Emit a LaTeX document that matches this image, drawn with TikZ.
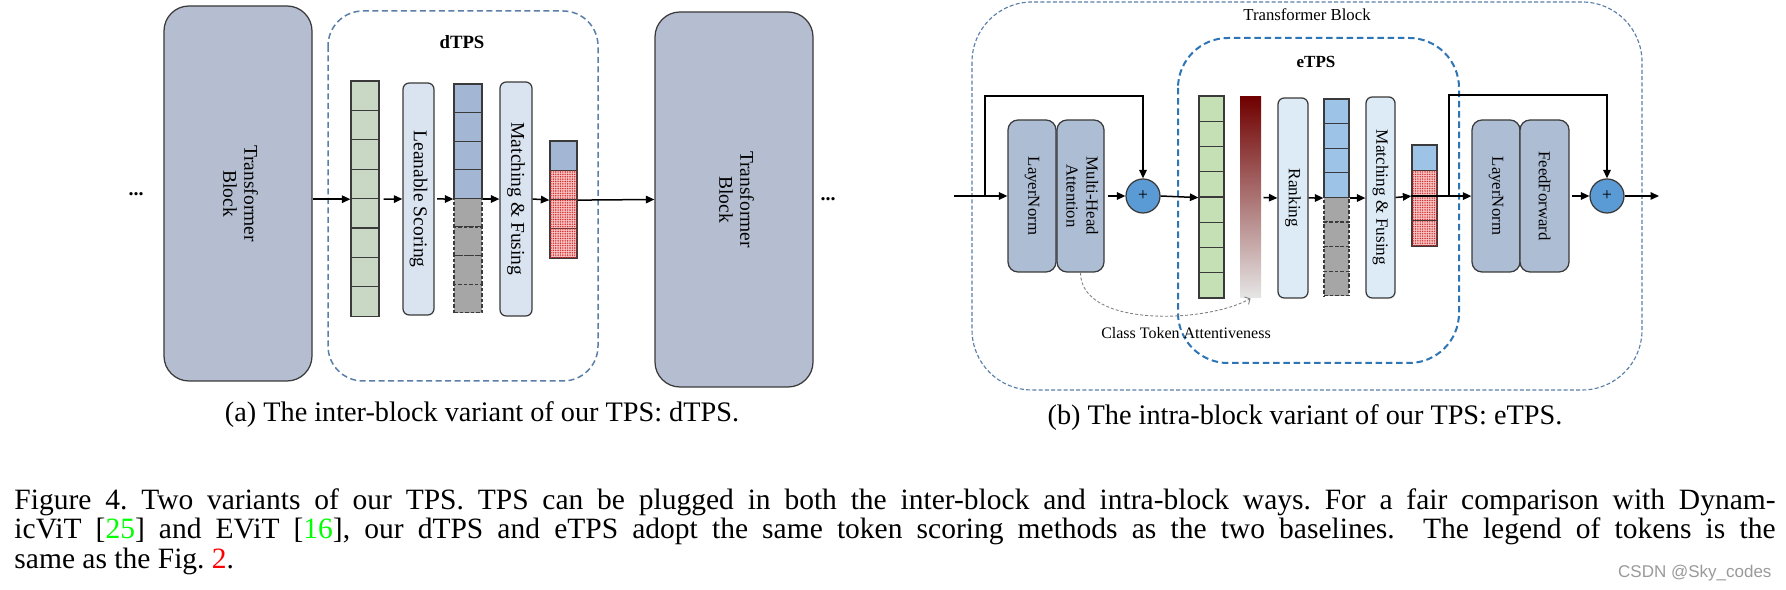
\documentclass[tikz,border=0pt]{standalone}
\usepackage{fontspec}
\setmainfont{Liberation Serif}
\newfontfamily\marksans{Liberation Sans}
\usepackage{graphicx}
\usepackage{tikz}
\usetikzlibrary{arrows.meta,patterns,patterns.meta,positioning}
\usepackage{xcolor}
\definecolor{blockgray}{HTML}{B4BED0}
\definecolor{normblue}{HTML}{ADBDD4}
\definecolor{edgegray}{HTML}{3A3A3A}
\definecolor{scorefill}{HTML}{DAE3F0}
\definecolor{scorefillb}{HTML}{DDEBF7}
\definecolor{tokgreen}{HTML}{C9D7C5}
\definecolor{tokgreenb}{HTML}{C5E0B4}
\definecolor{keepblue}{HTML}{A3B6D3}
\definecolor{keepblueb}{HTML}{9DC3E6}
\definecolor{dropgray}{HTML}{A6A6A6}
\definecolor{fusedpink}{HTML}{F5C4C4}
\definecolor{fusedred}{HTML}{DC2A2A}
\definecolor{plusblue}{HTML}{5B9BD5}
\definecolor{dashblue}{HTML}{5A7EA8}
\definecolor{etpsblue}{HTML}{2E75B6}
\definecolor{attnred}{HTML}{700000}
\definecolor{attnlight}{HTML}{E6E6E6}
\definecolor{citegreen}{HTML}{00FF00}
\definecolor{markgray}{HTML}{9A9A9A}

\newcommand{\sidetext}[1]{\rotatebox{-90}{#1}}
\newcommand{\twolines}[2]{\sidetext{\begin{tabular}{@{}c@{}}#1\\#2\end{tabular}}}

\tikzset{
  tblock/.style={draw=edgegray, fill=blockgray, line width=0.5pt, rounded corners=10pt,
    minimum height=150pt, inner sep=0pt, font=\fontsize{7.8}{8.4}\selectfont},
  opbox/.style={draw=edgegray, fill=scorefill, line width=0.5pt, rounded corners=2.5pt,
    inner sep=0pt, font=\fontsize{7.8}{8.4}\selectfont},
  normbox/.style={draw=edgegray, fill=normblue, line width=0.5pt, rounded corners=4pt,
    inner sep=0pt, minimum height=60.8pt, font=\fontsize{6.7}{8}\selectfont},
  tokcell/.style={draw=edgegray, line width=0.5pt, inner sep=0pt},
  dropcell/.style={tokcell, fill=dropgray, dash pattern=on 1.4pt off 0.8pt},
  fusedcell/.style={tokcell, fill=fusedpink,
    postaction={pattern={Dots[radius=0.32pt, distance=0.95pt]}, pattern color=fusedred}},
  plusnode/.style={circle, draw=edgegray, fill=plusblue, line width=0.5pt, inner sep=0pt,
    minimum size=13.6pt, font=\fontsize{7}{7}\selectfont},
  flow/.style={->, line width=0.6pt},
  attnflow/.style={-{Straight Barb[length=1.6pt,width=3.4pt]}, gray, line width=0.35pt,
    dash pattern=on 1.2pt off 0.8pt},
  tpsbox/.style={dashblue, line width=0.6pt, dash pattern=on 2.4pt off 1.4pt, rounded corners=14pt},
  outerbox/.style={dashblue, line width=0.45pt, dash pattern=on 1.6pt off 0.9pt, rounded corners=24pt},
  etpsbox/.style={etpsblue, line width=0.8pt, dash pattern=on 2.6pt off 1.5pt, rounded corners=20pt},
  caption/.style={inner sep=0pt, font=\fontsize{11.3}{11.84}\selectfont},
}

\begin{document}
\begin{tikzpicture}[x=0.4pt, y=-0.4pt, >={Triangle[length=3.4pt,width=3pt]}]
  \fill[white] (0,0) rectangle (1786,590);
  \useasboundingbox (0,0) rectangle (1786,590);

  % (a) inter-block variant
  \draw[tpsbox] (328,11) rectangle (598,381);
  \node[font=\fontsize{7.5}{8}\selectfont\bfseries] (dtps) at (462,42) {dTPS};
  \node[font=\fontsize{8}{8}\selectfont] (dotsl) at (136,194) {\textbf{...}};
  \node[tblock, minimum width=59.2pt] (tb1) at (238,193.5) {\twolines{Transformer}{Block}};
  \node[tblock, minimum width=63.2pt] (tb2) at (734,199.5) {\twolines{Transformer}{Block}};
  \node[font=\fontsize{8}{8}\selectfont] (dotsr) at (828,199) {\textbf{...}};
  \foreach \i in {1,...,8}{
    \pgfmathsetmacro{\cy}{81+29.4*(\i-0.5)}
    \node[tokcell, fill=tokgreen, minimum width=11.2pt, minimum height=11.76pt] (ga\i) at (365,\cy) {};
  }
  \node[opbox, minimum width=12.4pt, minimum height=92.8pt] (ls) at (418.5,199) {\sidetext{Leanable Scoring}};
  \foreach \i in {5,...,8}{
    \pgfmathsetmacro{\cy}{84+28.6*(\i-0.5)}
    \node[dropcell, minimum width=11.2pt, minimum height=11.44pt] (ba\i) at (468,\cy) {};
  }
  \foreach \i in {1,...,4}{
    \pgfmathsetmacro{\cy}{84+28.6*(\i-0.5)}
    \node[tokcell, fill=keepblue, minimum width=11.2pt, minimum height=11.44pt] (ba\i) at (468,\cy) {};
  }
  \node[opbox, minimum width=12.8pt, minimum height=93.6pt] (mfa) at (516,199) {\sidetext{Matching \& Fusing}};
  \node[tokcell, fill=keepblue, minimum width=10.8pt, minimum height=11.7pt] (ra1) at (563.5,155.6) {};
  \foreach \i in {2,...,4}{
    \pgfmathsetmacro{\cy}{141+29.25*(\i-0.5)}
    \node[fusedcell, minimum width=10.8pt, minimum height=11.7pt] (ra\i) at (563.5,\cy) {};
  }
  \draw[flow] (tb1.east |- ga4.south) -- (ga4.south west);
  \draw[flow] ([xshift=1.6pt]ga4.south east) -- (ls.west);
  \draw[flow] ([xshift=1pt]ls.east) -- (ba4.south west);
  \draw[flow] (ba4.south east) -- (mfa.west |- ba4.south);
  \draw[flow] (mfa.east) -- (ra2.south west);
  \draw[flow] (ra2.south east) -- (tb2.west);

  % (b) intra-block variant
  \draw[outerbox] (972,2) rectangle (1642,390);
  \draw[etpsbox] (1178,38) rectangle (1459,363);
  \node[font=\fontsize{6.7}{8}\selectfont] (tblabel) at (1307,15) {Transformer Block};
  \node[font=\fontsize{6.8}{8}\selectfont\bfseries] (etps) at (1316,62) {eTPS};
  \coordinate (in) at (954,196);
  \coordinate (fork1) at (985,196);
  \coordinate (top1) at (985,96);
  \node[normbox, minimum width=19.2pt] (ln1) at (1032,196) {\sidetext{LayerNorm}};
  \node[normbox, minimum width=18.8pt] (mha) at (1080.5,196) {\twolines{Multi-Head}{Attention}};
  \node[plusnode] (pl1) at (1143,196) {+};
  \foreach \i in {1,...,8}{
    \pgfmathsetmacro{\cy}{96+25.25*(\i-0.5)}
    \node[tokcell, fill=tokgreenb, minimum width=10pt, minimum height=10.1pt] (gb\i) at (1211.5,\cy) {};
  }
  \node[inner sep=0pt, minimum width=8.4pt, minimum height=80.4pt, top color=attnred,
    bottom color=attnlight] (grad) at (1250.5,197.5) {};
  \node[opbox, fill=scorefillb, minimum width=12pt, minimum height=80pt,
    font=\fontsize{6.9}{8}\selectfont] (rank) at (1293,198) {\sidetext{Ranking}};
  \foreach \i in {5,...,8}{
    \pgfmathsetmacro{\cy}{99+24.6*(\i-0.5)}
    \node[dropcell, minimum width=10pt, minimum height=9.84pt] (bb\i) at (1336.5,\cy) {};
  }
  \foreach \i in {1,...,4}{
    \pgfmathsetmacro{\cy}{99+24.6*(\i-0.5)}
    \node[tokcell, fill=keepblueb, minimum width=10pt, minimum height=9.84pt] (bb\i) at (1336.5,\cy) {};
  }
  \node[opbox, fill=scorefillb, minimum width=11.6pt, minimum height=80.4pt,
    font=\fontsize{6.9}{8}\selectfont] (mfb) at (1380.5,197.5) {\sidetext{Matching \& Fusing}};
  \node[tokcell, fill=keepblueb, minimum width=10pt, minimum height=10.1pt] (rb1) at (1424.5,157.6) {};
  \foreach \i in {2,...,4}{
    \pgfmathsetmacro{\cy}{145+25.25*(\i-0.5)}
    \node[fusedcell, minimum width=10pt, minimum height=10.1pt] (rb\i) at (1424.5,\cy) {};
  }
  \coordinate (fork2) at (1449,196);
  \coordinate (top2) at (1449,95);
  \node[normbox, minimum width=19.2pt] (ln2) at (1496,196) {\sidetext{LayerNorm}};
  \node[normbox, minimum width=19.6pt] (ff) at (1544.5,196) {\sidetext{FeedForward}};
  \node[plusnode] (pl2) at (1607,196) {+};
  \coordinate (out) at (1659,196);
  \draw[flow] (in) -- (ln1.west);
  \draw[flow] (fork1) -- (top1) -| (pl1.north);
  \draw[flow] ([xshift=1.2pt]mha.east) -- (pl1.west);
  \draw[flow] (pl1.east) -- (gb4.south west -| gb4.west);
  \draw[flow] ([xshift=0.8pt]grad.east) -- (rank.west);
  \draw[flow] (rank.east) -- (bb4.south west);
  \draw[flow] (bb4.south east) -- (mfb.west |- bb4.south);
  \draw[flow] (mfb.east) -- (rb2.south west);
  \draw[flow] (rb2.south west) -- (ln2.west |- rb2.south);
  \draw[flow] (fork2) -- (top2) -| (pl2.north);
  \draw[flow] ([xshift=0.8pt]ff.east) -- (pl2.west);
  \draw[flow] (pl2.east) -- (out);
  \draw[attnflow] (mha.south) .. controls +(0,55) and +(-45,25) .. (grad.south);
  \node[font=\fontsize{6.4}{8}\selectfont] (ctlabel) at (1186,333) {Class Token Attentiveness};

  % captions
  \node[caption] (capa) at (482,415) {(a) The inter-block variant of our TPS: dTPS.};
  \node[caption] (capb) at (1305,418) {(b) The intra-block variant of our TPS: eTPS.};
  \node[caption, font=\fontsize{11.8}{11.84}\selectfont, anchor=north west, text width=704.4pt, align=justify] (figcap) at (14,488)
  {\frenchspacing\tolerance=10000 Figure 4. Two variants of our TPS. TPS can be plugged in both the inter-block and intra-block ways. For a fair comparison with Dynam-\linebreak icViT [\textcolor{citegreen}{25}] and EViT [\textcolor{citegreen}{16}], our dTPS and eTPS adopt the same token scoring methods as the two baselines.\ \ The legend of tokens is the\linebreak same as the Fig. \textcolor{red}{2}.};
  \node[anchor=east, inner sep=0pt, text=markgray, font=\marksans\fontsize{6.8}{8}\selectfont] (mark) at (1772,573) {CSDN @Sky\_codes};
\end{tikzpicture}
\end{document}
